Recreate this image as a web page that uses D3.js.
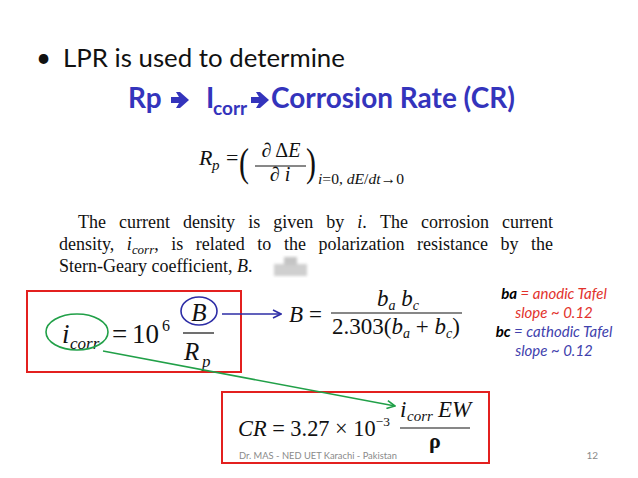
<!DOCTYPE html>
<html>
<head>
<meta charset="utf-8">
<script src="https://cdn.jsdelivr.net/npm/d3@7"></script>
<style>
    body { margin: 0; background: #fff; }
    text { font-family: "Liberation Serif", "Times New Roman", serif; fill: #111; }
    text.sans { font-family: Lato, "Open Sans", sans-serif; }
</style>
</head>
<body>
<svg id="slide"></svg>
<script>
"use strict";

// slide texts
var bullet_text = "LPR is used to determine";
var flow_steps = ["Rp", "I", "corr", "Corrosion Rate (CR)"];

// {x} = italic, {_x} = italic subscript
var para_lines = [
    "The current density is given by {i}. The corrosion current",
    "density, {i}{_corr}, is related to the polarization resistance by the",
    "Stern-Geary coefficient, {B}."
];

var note_keys = ["ba", "", "bc", ""];
var note_texts = [" = anodic Tafel", "slope ~ 0.12", " = cathodic Tafel", "slope ~ 0.12"];
var note_colors = ["#e2322c", "#e2322c", "#4141ad", "#4141ad"];

var cr_factor = "3.27 \u00d7 10";
var cr_exponent = "\u22123";
var footer_text = "Dr. MAS - NED UET Karachi - Pakistan";
var page_number = "12";

var W = 638, H = 478;
var blue = "#3434bc";

var svg = d3.select("#slide")
    .attr("width", W)
    .attr("height", H);

svg.append("rect")
    .attr("width", W)
    .attr("height", H)
    .attr("fill", "#fff");

var defs = svg.append("defs");

function arrow_marker(id, color) {
    defs.append("marker")
        .attr("id", id)
        .attr("viewBox", "0 0 10 10")
        .attr("refX", 9)
        .attr("refY", 5)
        .attr("markerWidth", 10)
        .attr("markerHeight", 10)
        .attr("markerUnits", "userSpaceOnUse")
        .attr("orient", "auto")
        .append("path")
        .attr("d", "M1,1 L9,5 L1,9")
        .attr("fill", "none")
        .attr("stroke", color)
        .attr("stroke-width", 1.6);
}
arrow_marker("arrow-blue", "#2d2da6");
arrow_marker("arrow-green", "#21a048");

defs.append("filter")
    .attr("id", "blur")
    .append("feGaussianBlur")
    .attr("stdDeviation", 1.6);

// place a piece of text, returns the selection
function put(x, y, str, size, opts) {
    opts = opts || {};
    var t = svg.append("text")
        .attr("x", x)
        .attr("y", y)
        .attr("font-size", size)
        .text(str);
    if (opts.cls) t.attr("class", opts.cls);
    if (opts.italic) t.attr("font-style", "italic");
    if (opts.bold) t.attr("font-weight", "bold");
    if (opts.anchor) t.attr("text-anchor", opts.anchor);
    if (opts.fill) t.style("fill", opts.fill);
    if (opts.family) t.style("font-family", opts.family);
    return t;
}

// scale font size so the text spans the given width
function fit(t, width) {
    var w = t.node().getComputedTextLength();
    var fs = parseFloat(t.attr("font-size"));
    t.attr("font-size", fs * width / w);
    return fs * width / w;
}

function line(x1, y1, x2, y2, color, width) {
    return svg.append("line")
        .attr("x1", x1).attr("y1", y1)
        .attr("x2", x2).attr("y2", y2)
        .attr("stroke", color)
        .attr("stroke-width", width);
}

// heavy wide-headed arrow like the wingdings one
function heavy_arrow(x0, yc, color) {
    var p = d3.path();
    p.moveTo(x0, yc - 3);
    p.lineTo(x0 + 8, yc - 3);
    p.lineTo(x0 + 5, yc - 8);
    p.lineTo(x0 + 9, yc - 8);
    p.lineTo(x0 + 18, yc);
    p.lineTo(x0 + 9, yc + 8);
    p.lineTo(x0 + 5, yc + 8);
    p.lineTo(x0 + 8, yc + 3);
    p.lineTo(x0, yc + 3);
    p.closePath();
    svg.append("path").attr("d", p.toString()).attr("fill", color);
}

//
// heading
//

put(36, 67, "\u2022", 26, { cls: "sans" });
fit(put(63, 67, bullet_text, 28, { cls: "sans" }), 282);

var flow_last = put(271, 108, flow_steps[3], 26, { cls: "sans", bold: true, fill: blue });
var flow_size = fit(flow_last, 244);
put(128, 108, flow_steps[0], flow_size, { cls: "sans", bold: true, fill: blue });
put(206, 108, flow_steps[1], flow_size, { cls: "sans", bold: true, fill: blue });
put(213, 115, flow_steps[2], flow_size * 0.68, { cls: "sans", bold: true, fill: blue });
heavy_arrow(171, 100, blue);
heavy_arrow(251, 100, blue);

//
// Rp definition
//

put(199, 165, "R", 22, { italic: true });
put(212, 170, "p", 15, { italic: true });
put(226, 165, "=", 22);
put(239, 176, "(", 40).attr("transform", "translate(239,0) scale(0.75,1) translate(-239,0)");
put(306, 176, ")", 40).attr("transform", "translate(306,0) scale(0.75,1) translate(-306,0)");
var num = put(281, 157, "\u2202 \u0394", 20, { anchor: "middle" });
num.append("tspan").attr("font-style", "italic").text("E");
var den = put(280, 181, "\u2202 ", 20, { anchor: "middle" });
den.append("tspan").attr("font-style", "italic").text("i");
line(255, 166, 306, 166, "#111", 1);

var cond = put(318, 184, "", 14);
[["i", 1], ["=0, ", 0], ["dE", 1], ["/", 0], ["dt", 1], ["\u21920", 0]].forEach(function (p) {
    cond.append("tspan").attr("font-style", p[1] ? "italic" : null).text(p[0]);
});
fit(cond, 86);

//
// paragraph, first two lines justified
//

var para_size = 18;
var para_spans = [[78, 553, 228, true], [59, 553, 250, true], [59, 0, 272, false]];

para_lines.forEach(function (str, li) {
    var span = para_spans[li];
    var words = str.split(" ");
    var items = words.map(function (w) {
        var t = svg.append("text").attr("font-size", para_size).attr("y", span[2]);
        var re = /\{(_?)([^}]*)\}|([^{]+)/g, m, sub = false;
        while ((m = re.exec(w)) !== null) {
            var ts = t.append("tspan");
            if (m[3] !== undefined) {
                ts.text(m[3]);
                if (sub) { ts.attr("dy", -4); sub = false; }
            } else if (m[1]) {
                ts.text(m[2]).attr("font-style", "italic")
                    .attr("font-size", para_size * 0.72).attr("dy", 4);
                sub = true;
            } else {
                ts.text(m[2]).attr("font-style", "italic");
            }
        }
        return t;
    });
    var widths = items.map(function (t) { return t.node().getComputedTextLength(); });
    var gap = para_size * 0.25;
    if (span[3]) {
        gap = (span[1] - span[0] - d3.sum(widths)) / (items.length - 1);
    }
    var x = span[0];
    items.forEach(function (t, i) {
        t.attr("x", x);
        x += widths[i] + gap;
    });
});

// blurred smudge after the paragraph
var smudge = svg.append("g").attr("filter", "url(#blur)");
smudge.append("rect").attr("x", 274).attr("y", 264).attr("width", 33).attr("height", 12).attr("fill", "#cfcfcf");
smudge.append("rect").attr("x", 284).attr("y", 257).attr("width", 13).attr("height", 8).attr("fill", "#c4c4c4");

//
// icorr box
//

svg.append("rect")
    .attr("x", 27).attr("y", 291)
    .attr("width", 214).attr("height", 81)
    .attr("fill", "none")
    .attr("stroke", "#e3201f")
    .attr("stroke-width", 2);

put(62, 343, "i", 27, { italic: true });
put(70, 349, "corr", 17, { italic: true });
put(112, 343, "=", 27);
put(132, 343, "10", 27);
put(162, 331, "6", 16);
put(199, 321, "B", 25, { italic: true, anchor: "middle" });
line(183, 333, 214, 333, "#111", 1.2);
put(184, 360, "R", 25, { italic: true });
put(202, 367, "p", 17, { italic: true });

svg.append("ellipse")
    .attr("cx", 77).attr("cy", 332)
    .attr("rx", 31).attr("ry", 18)
    .attr("fill", "none")
    .attr("stroke", "#21a048")
    .attr("stroke-width", 1.6);

svg.append("ellipse")
    .attr("cx", 199).attr("cy", 311)
    .attr("rx", 18).attr("ry", 14)
    .attr("fill", "none")
    .attr("stroke", "#2d2da6")
    .attr("stroke-width", 1.6);

line(222, 314, 281, 314, "#2d2da6", 1.6).attr("marker-end", "url(#arrow-blue)");

//
// Stern-Geary coefficient
//

put(289, 322, "B", 23, { italic: true });
put(309, 322, "=", 23);
line(331, 313, 462, 313, "#111", 1.2);

function b_term(t, idx) {
    t.append("tspan").attr("font-style", "italic").text("b");
    t.append("tspan").attr("font-style", "italic").attr("font-size", 14).attr("dy", 4).text(idx);
}
var bnum = put(398, 306, "", 23, { anchor: "middle" });
b_term(bnum, "a");
bnum.append("tspan").attr("dy", -4).text(" ");
b_term(bnum, "c");

var bden = put(396, 334, "2.303(", 23, { anchor: "middle" });
b_term(bden, "a");
bden.append("tspan").attr("dy", -4).text(" + ");
b_term(bden, "c");
bden.append("tspan").attr("dy", -4).text(")");

//
// Tafel notes
//

note_texts.forEach(function (str, i) {
    var t = put(554, 299 + i * 19, "", 15, { cls: "sans", italic: true, anchor: "middle" });
    if (note_keys[i]) {
        t.append("tspan").attr("font-weight", "bold").style("fill", "#000").text(note_keys[i]);
    }
    t.append("tspan").style("fill", note_colors[i]).text(str);
});

//
// corrosion rate box
//

svg.append("rect")
    .attr("x", 222).attr("y", 392)
    .attr("width", 267).attr("height", 71)
    .attr("fill", "none")
    .attr("stroke", "#e3201f")
    .attr("stroke-width", 2);

var cr = put(238, 436, "CR", 25, { italic: true });
cr.append("tspan").attr("font-style", "normal").text(" = " + cr_factor);
cr.append("tspan").attr("font-style", "normal").attr("font-size", "0.6em").attr("dy", -10).text(cr_exponent);
fit(cr, 152);

put(400, 417, "i", 23, { italic: true });
put(407, 421, "corr", 15, { italic: true });
put(438, 417, "EW", 23, { italic: true });
line(400, 428, 470, 428, "#111", 1.2);
put(435, 448, "\u03c1", 22, { anchor: "middle", bold: true });

line(103, 351, 395, 406, "#21a048", 1.6).attr("marker-end", "url(#arrow-green)");

//
// footer
//

fit(put(239, 459, footer_text, 10, { cls: "sans", fill: "#8a8a8a" }), 158);
put(598, 459, page_number, 10, { cls: "sans", fill: "#8a8a8a", anchor: "end" });
</script>
</body>
</html>
